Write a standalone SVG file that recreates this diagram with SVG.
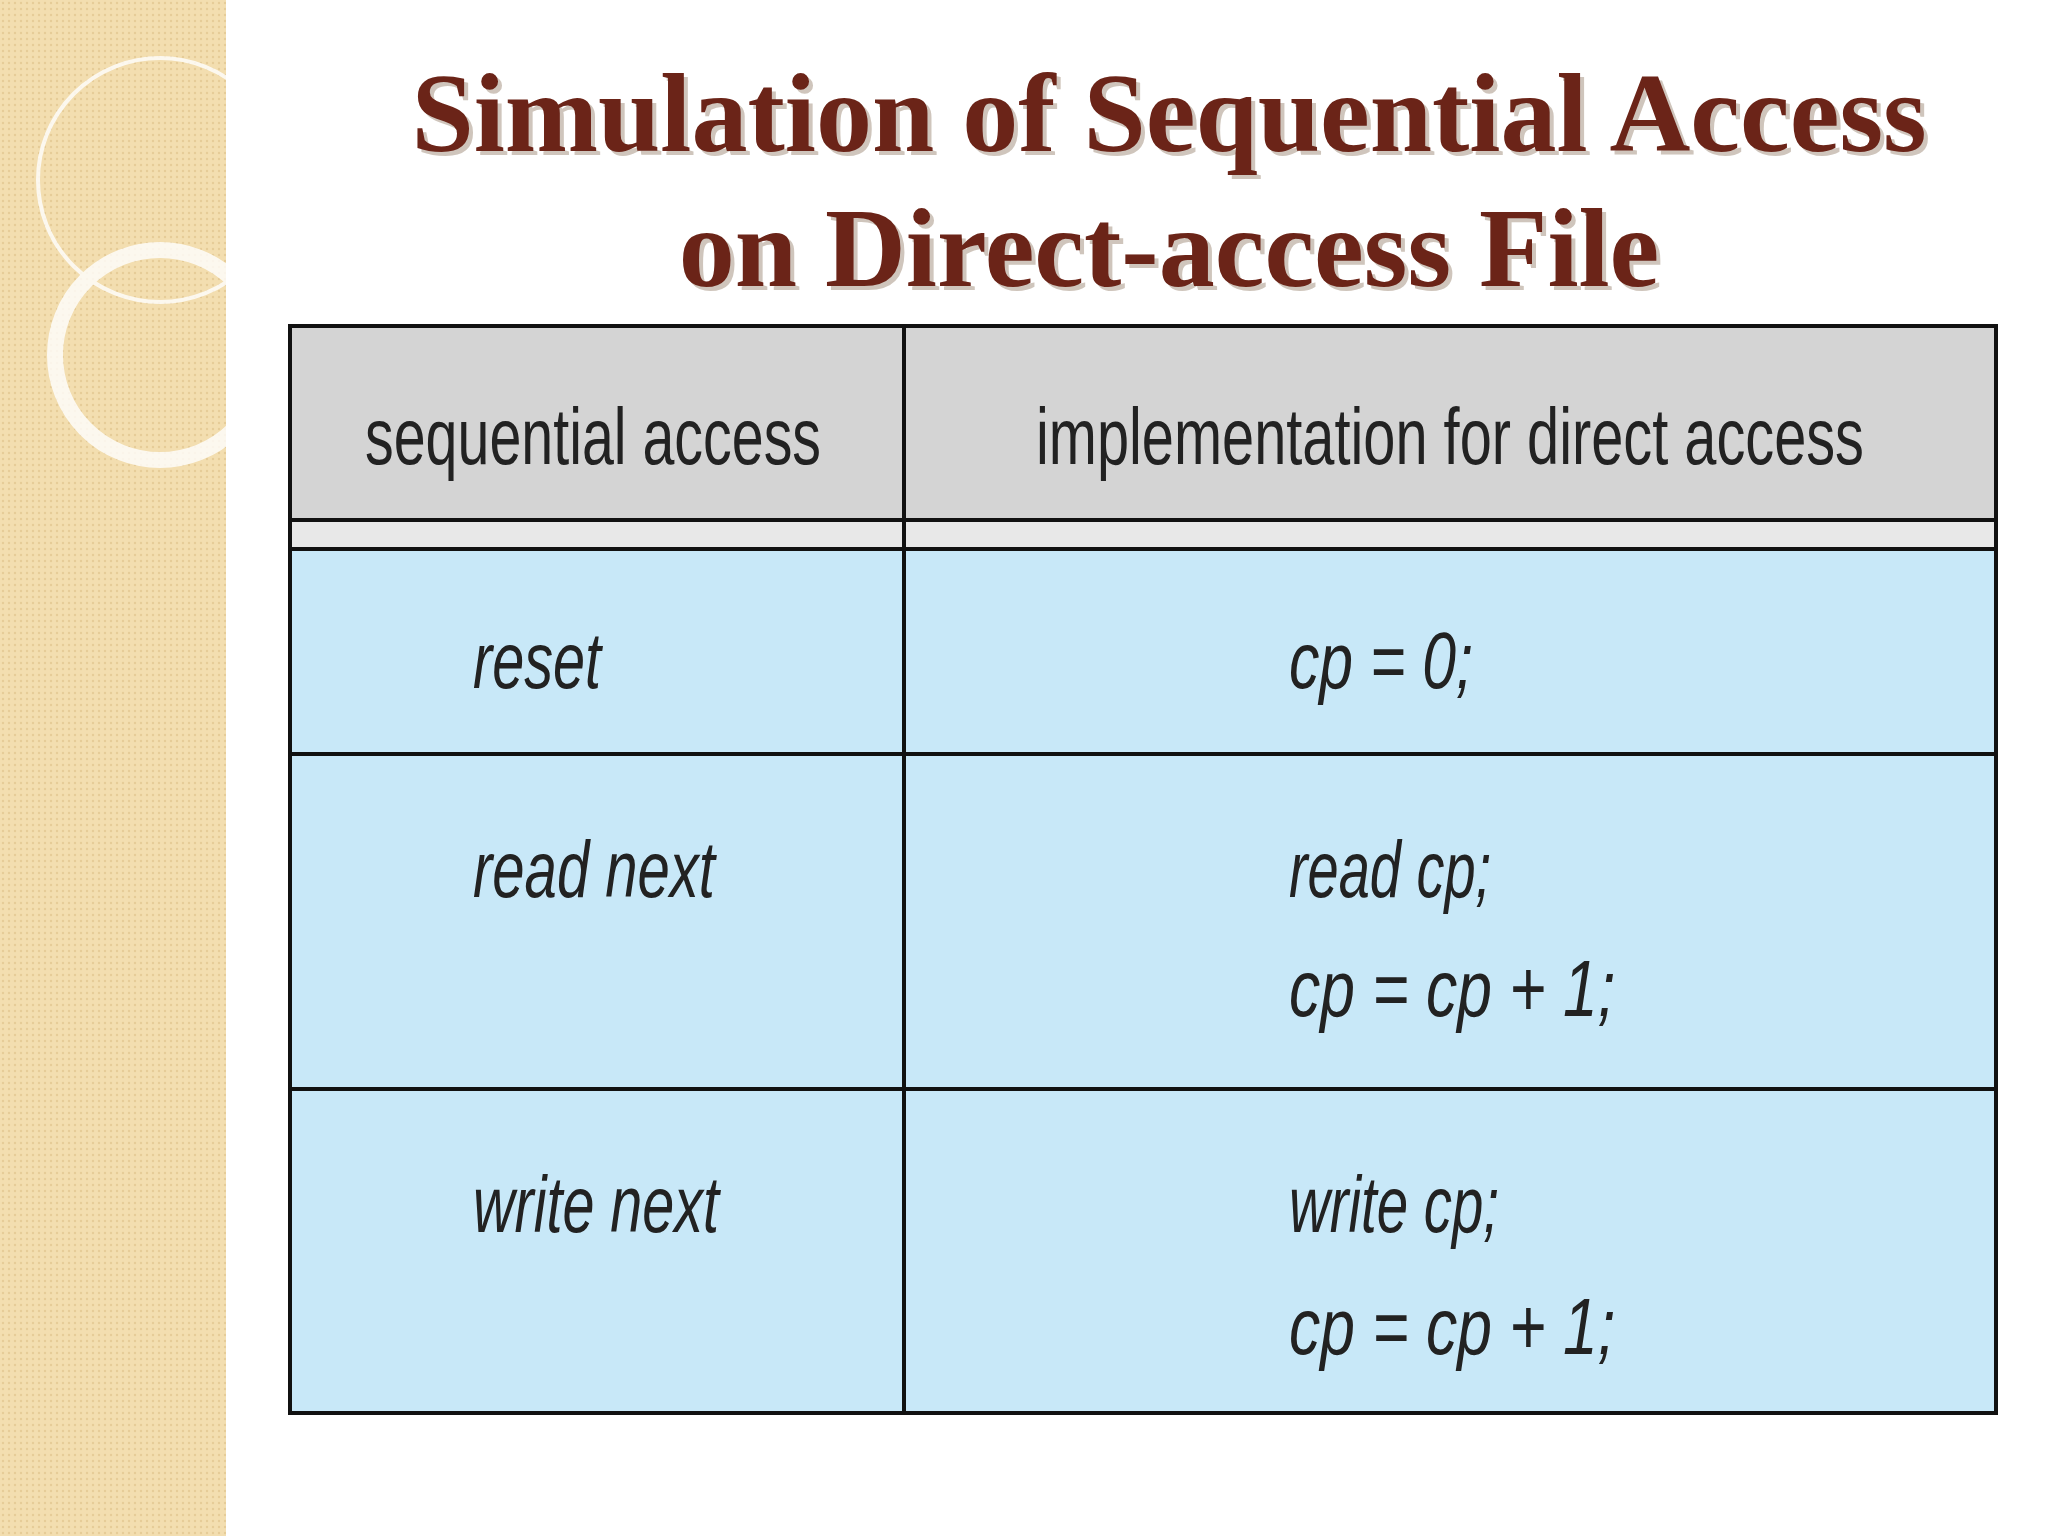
<svg xmlns="http://www.w3.org/2000/svg" width="2048" height="1536" viewBox="0 0 2048 1536">
<defs>
<pattern id="dots" width="6" height="6" patternUnits="userSpaceOnUse"><rect width="6" height="6" fill="#f3deb0"/><circle cx="3" cy="3" r="1.2" fill="#e6cc98"/></pattern>
<style>
.t{font-family:"Liberation Serif",serif;font-weight:bold;font-size:112px;fill:#6b2418;text-anchor:middle}
.sh{font-family:"Liberation Serif",serif;font-weight:bold;font-size:112px;fill:#b0a090;text-anchor:middle;opacity:.6}
.h{font-family:"Liberation Sans",sans-serif;font-size:80px;fill:#222}
.c{font-family:"Liberation Sans",sans-serif;font-size:80px;fill:#222;font-style:italic}
.ln{stroke:#111;stroke-width:4;fill:none}
</style>
</defs>
<rect width="2048" height="1536" fill="#fff"/>
<rect width="226" height="1536" fill="url(#dots)"/>
<g fill="none" stroke="#fff" opacity="0.8">
<circle cx="160" cy="180" r="122" stroke-width="4"/>
<circle cx="160" cy="355" r="105" stroke-width="16"/>
</g>
<g id="title">
<text class="sh" x="1173" y="155">Simulation of Sequential Access</text>
<text class="sh" x="1173" y="290">on Direct-access File</text>
<text class="t" x="1169" y="151">Simulation of Sequential Access</text>
<text class="t" x="1169" y="286">on Direct-access File</text>
</g>
<g id="table">
<rect x="290" y="326" width="1706" height="194" fill="#d4d4d4"/>
<rect x="290" y="520" width="1706" height="29" fill="#e8e8e8"/>
<rect x="290" y="549" width="1706" height="864" fill="#c8e8f8"/>
<rect x="290" y="326" width="1706" height="1087" class="ln"/>
<line x1="290" y1="520" x2="1996" y2="520" class="ln"/>
<line x1="290" y1="549" x2="1996" y2="549" class="ln"/>
<line x1="290" y1="754" x2="1996" y2="754" class="ln"/>
<line x1="290" y1="1089" x2="1996" y2="1089" class="ln"/>
<line x1="904" y1="326" x2="904" y2="1413" class="ln"/>
<text class="h" x="365" y="464" textLength="456" lengthAdjust="spacingAndGlyphs">sequential access</text>
<text class="h" x="1036" y="464" textLength="828" lengthAdjust="spacingAndGlyphs">implementation for direct access</text>
<text class="c" x="473" y="688" textLength="128" lengthAdjust="spacingAndGlyphs">reset</text>
<text class="c" x="473" y="897" textLength="242" lengthAdjust="spacingAndGlyphs">read next</text>
<text class="c" x="473" y="1232" textLength="246" lengthAdjust="spacingAndGlyphs">write next</text>
<text class="c" x="1289" y="688" textLength="184" lengthAdjust="spacingAndGlyphs">cp = 0;</text>
<text class="c" x="1289" y="897" textLength="202" lengthAdjust="spacingAndGlyphs">read cp;</text>
<text class="c" x="1289" y="1016" textLength="326" lengthAdjust="spacingAndGlyphs">cp = cp + 1;</text>
<text class="c" x="1289" y="1232" textLength="210" lengthAdjust="spacingAndGlyphs">write cp;</text>
<text class="c" x="1289" y="1354" textLength="326" lengthAdjust="spacingAndGlyphs">cp = cp + 1;</text>
</g>
</svg>
